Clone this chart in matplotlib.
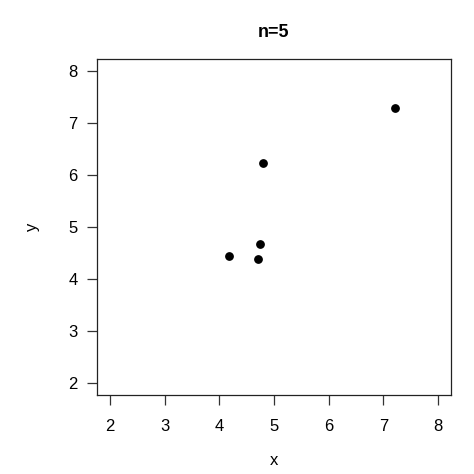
import matplotlib
matplotlib.use("Agg")
import matplotlib.pyplot as plt

plt.rcParams['font.family'] = ['Liberation Sans', 'DejaVu Sans']

x = [7.22, 4.79, 4.75, 4.18, 4.70]
y = [7.30, 6.24, 4.67, 4.44, 4.38]
ticks = [2, 3, 4, 5, 6, 7, 8]

fig = plt.figure(figsize=(4.74, 4.74), dpi=100)
ax = fig.add_axes([0.2046, 0.1667, 0.9515 - 0.2046, 0.8755 - 0.1667])

ax.scatter(x, y, s=28, color='black', zorder=3)

ax.set_xlim(1.76, 8.24)
ax.set_ylim(1.76, 8.24)
ax.set_xticks(ticks)
ax.set_yticks(ticks)
ax.tick_params(length=7, width=0.9, labelsize=12, color='#333333')
ax.tick_params(axis='x', pad=10)
ax.tick_params(axis='y', pad=7)
for s in ax.spines.values():
    s.set_linewidth(0.9)
    s.set_color('#222222')

ax.set_xlabel('x', fontsize=12, labelpad=14)
ax.set_ylabel('y', fontsize=12, labelpad=20)
ax.set_title('n=5', fontsize=13, fontweight='bold', pad=16)

fig.savefig('out.png', dpi=100)
